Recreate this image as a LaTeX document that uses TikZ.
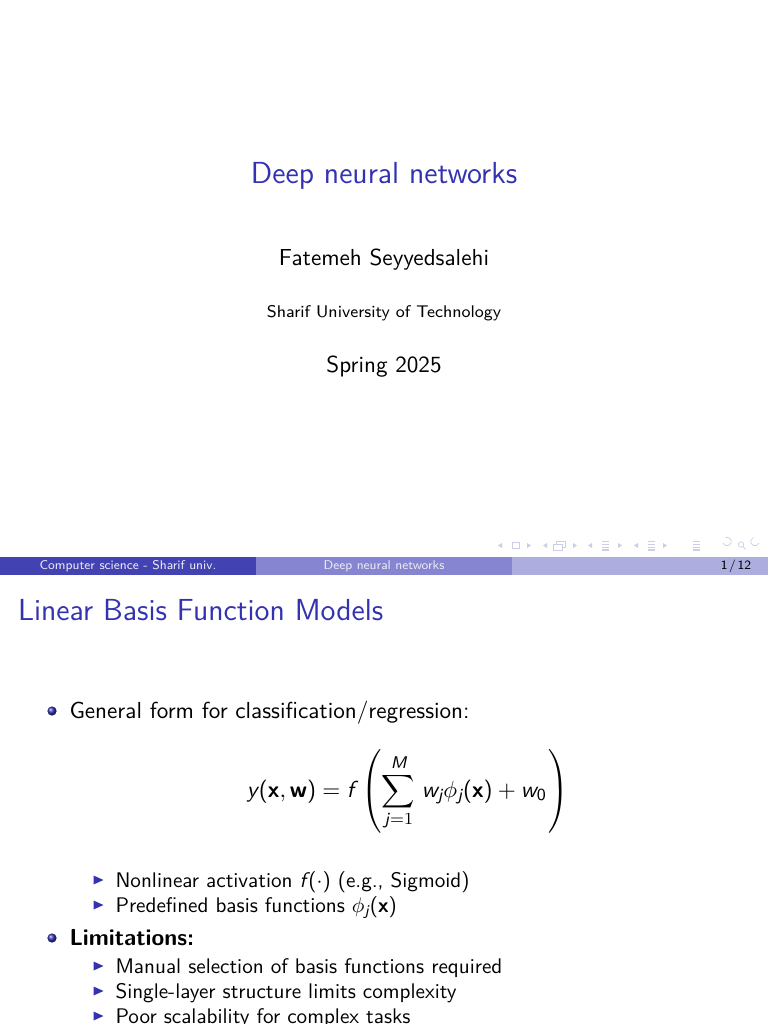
\documentclass[tikz,border=0pt]{standalone}
\usepackage{amsmath,amssymb}
\usepackage{bm}
\usepackage{xcolor}
\usetikzlibrary{positioning, shapes, arrows.meta}
\definecolor{structblue}{RGB}{51,51,178}
\definecolor{barone}{RGB}{66,66,178}
\definecolor{bartwo}{RGB}{133,133,209}
\definecolor{barthree}{RGB}{173,173,223}
\definecolor{navblue}{RGB}{205,205,232}
\renewcommand{\familydefault}{\sfdefault}
\DeclareMathAlphabet{\mathsfit}{\encodingdefault}{\sfdefault}{m}{sl}
\newcommand{\bx}{\text{\bfseries x}}
\newcommand{\bw}{\text{\bfseries w}}
\newcommand{\lpar}{\mathopen{\text{(}}}
\newcommand{\rpar}{\mathclose{\text{)}}}
\tikzset{
    txt/.style={anchor=base west, inner sep=0pt, outer sep=0pt, scale=2.114, font=\fontsize{10.95}{13}\selectfont},
    subtxt/.style={txt, font=\fontsize{10}{12}\selectfont},
    ctr/.style={anchor=base, inner sep=0pt, outer sep=0pt, scale=2.114, font=\fontsize{10.95}{13}\selectfont},
    foot/.style={anchor=base, inner sep=0pt, outer sep=0pt, scale=2.114, text=white!90!structblue, font=\fontsize{6}{7}\selectfont},
    navline/.style={draw=navblue, line width=.7pt},
}
\newcommand{\ballitem}[1]{\shade[ball color=structblue](52,#1)circle(4.6);}
\newcommand{\triitem}[1]{\fill[structblue](93.5,#1-4.5)--(103.5,#1)--(93.5,#1+4.5)--cycle;}
\begin{document}
\begin{tikzpicture}[x=1pt,y=-1pt]
    \useasboundingbox (0,0) rectangle (768,1024);
    \fill[white](0,0)rectangle(768,1024);

    %first slide
    \node[ctr, text=structblue, font=\fontsize{14.4}{17}\selectfont] (title) at (384,184) {Deep neural networks};
    \node[ctr] (author) at (384,265) {Fatemeh Seyyedsalehi};
    \node[ctr, font=\fontsize{8}{10}\selectfont] (inst) at (384,317) {Sharif University of Technology};
    \node[ctr] (date) at (384,372) {Spring 2025};

    %navigation symbols
    \foreach\X in{500,545,590,636}{
        \fill[navblue](\X-2,545.5)--(\X+2,543)--(\X+2,548)--cycle;
    }
    \foreach\X in{529,575,620,665}{
        \fill[navblue](\X-2,543)--(\X+2,545.5)--(\X-2,548)--cycle;
    }
    \draw[navline](512,542.5)rectangle(519.5,548.5);
    \draw[navline](553,544)rectangle(562,550);
    \draw[navline](556,544)--(556,541)--(565,541)--(565,547.5)--(562,547.5);
    \foreach\X in{605.5,651.5,696.5}{
        \foreach\Y in{541,544,547}\draw[navline](\X-3.5,\Y)--(\X+3.5,\Y);
        \draw[navline, line width=1.2pt](\X-3.5,550)--(\X+3.5,550);
    }
    \draw[navline](723,543)arc(160:-110:4.3);
    \draw[navline](741,544.5)circle(2.7);
    \draw[navline](743,546.5)--(745.5,549.5);
    \draw[navline](759,543)arc(20:250:4.3);

    %footline
    \fill[barone](0,557)rectangle(256,575);
    \fill[bartwo](256,557)rectangle(512,575);
    \fill[barthree](512,557)rectangle(768,575);
    \node[foot] (footauthor) at (128,569.5) {Computer science - Sharif univ.};
    \node[foot] (foottitle) at (384,569.5) {Deep neural networks};
    \node[foot, text=black, anchor=base east] (footpage) at (751,569.5) {\spaceskip .13em\relax 1 / 12};

    %second slide
    \node[txt, text=structblue, font=\fontsize{14.4}{17}\selectfont] (frametitle) at (18,620) {Linear Basis Function Models};

    \ballitem{711}
    \node[txt] (general) at (69.5,718) {General form for classification/regression:};
    \node[ctr] (formula) at (408,797) {$\displaystyle \mathsfit{y}\mkern1mu\lpar\bx,\bw\rpar=\mathsfit{f}\mkern3mu\left(\sum_{\mathsfit{j}\mkern1mu=1}^{\mathsfit{M}}\mkern2mu\mathsfit{w}_{\mathsfit{j}}\phi_{\mathsfit{j}}\lpar\bx\rpar+\mathsfit{w}_{\mathsf{0}}\mkern1.5mu\right)$};

    \triitem{880}
    \node[subtxt] (nonlinear) at (115.5,887) {Nonlinear activation $\mathsfit{f}\mkern2mu\lpar\cdot\rpar$ (e.g., Sigmoid)};
    \triitem{905}
    \node[subtxt] (predefined) at (115.5,912) {Predefined basis functions $\phi_{\mathsfit{j}}\lpar\bx\rpar$};

    \ballitem{938}
    \node[txt] (limits) at (69.5,945) {\bfseries Limitations:};
    \triitem{966}
    \node[subtxt] (manual) at (115.5,973) {Manual selection of basis functions required};
    \triitem{991}
    \node[subtxt] (single) at (115.5,998) {Single-layer structure limits complexity};
    \triitem{1016}
    \node[subtxt] (poor) at (115.5,1023) {Poor scalability for complex tasks};
\end{tikzpicture}
\end{document}
